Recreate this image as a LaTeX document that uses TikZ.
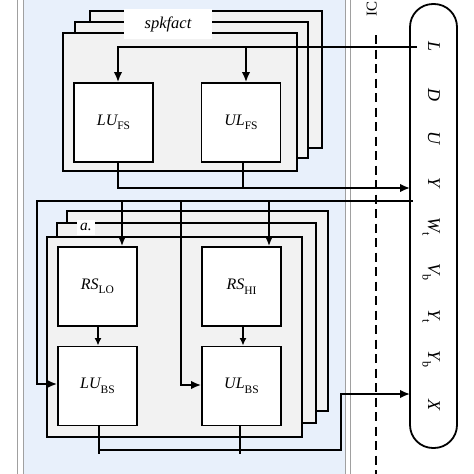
\documentclass[tikz,border=0pt]{standalone}
\usepackage{fontspec}
\setmainfont{Liberation Serif}
\usetikzlibrary{arrows.meta}
\definecolor{panelblue}{RGB}{232,240,251}
\definecolor{framegray}{RGB}{242,242,242}
\definecolor{edgegray}{RGB}{160,160,160}
\newcommand\sbs[1]{\raisebox{-0.28em}{\fontsize{11.5}{12}\selectfont\upshape #1}}
\newcommand\psbs[1]{\raisebox{-0.3em}{\fontsize{12}{13}\selectfont\upshape #1}}
\begin{document}
\begin{tikzpicture}[x=1pt,y=-1pt,
  frame/.style={draw=black,fill=framegray,line width=1.9pt},
  blk/.style={draw=black,fill=white,line width=1.9pt,minimum width=79pt,minimum height=79pt,inner sep=0pt,font=\fontsize{16}{19}\selectfont\itshape},
  conn/.style={line width=1.7pt},
  arr/.style={conn,-{Latex[length=10pt,width=8.5pt]}},
  sarr/.style={conn,-{Latex[length=7.5pt,width=7pt]}},
  plabel/.style={rotate=-90,anchor=base,font=\fontsize{18}{21}\selectfont\itshape,inner sep=0pt},
  tag/.style={fill=white,inner sep=0pt,font=\fontsize{16.5}{19}\selectfont\itshape}
]
\useasboundingbox (0,0) rectangle (474,474);
\fill[white] (0,0) rectangle (474,474);
% panel
\fill[panelblue] (23,0) rectangle (345,474);
\draw[edgegray,line width=0.9pt] (17,0) -- (17,474) (23,0) -- (23,474) (345,0) -- (345,474) (350,0) -- (350,474);
% IO label
\node[rotate=90,anchor=south west,inner sep=0pt,font=\fontsize{15}{18}\selectfont] (io) at (377,17) {IC};
% dashed line
\coordinate (dtop) at (376,35);
\coordinate (dbot) at (376,474);
\draw[line width=2.8pt,dash pattern=on 9pt off 5.5pt] (dtop) -- (dbot);
% pill
\node[draw,line width=1.8pt,rounded corners=23pt,minimum width=47pt,minimum height=444pt,inner sep=0pt] (pill) at (433.5,226) {};
\node[plabel] (pL) at (428,47) {L};
\node[plabel] (pD) at (428,95) {D};
\node[plabel] (pU) at (428,138) {U};
\node[plabel] (pY) at (428,183) {Y};
\node[plabel] (pWt) at (428,227) {W\psbs{t}};
\node[plabel] (pVb) at (428,272) {V\psbs{b}};
\node[plabel] (pYt) at (428,316) {Y\psbs{t}};
\node[plabel] (pYb) at (428,359) {Y\psbs{b}};
\node[plabel] (pX) at (428,405) {X};
% top stack
\draw[frame] (90,11) rectangle (322,148);
\draw[frame] (75,22) rectangle (308,158);
\draw[frame] (63,33) rectangle (297,171);
\node[tag,minimum width=88pt,minimum height=30pt] (spk) at (168,24) {spkfact};
\node[blk] (lufs) at (113.5,122.5) {LU\sbs{FS}};
\node[blk] (ulfs) at (241,122.5) {UL\sbs{FS}};
% bottom stack
\draw[frame] (67,211) rectangle (328,411);
\draw[frame] (57,223) rectangle (316,423);
\draw[frame] (47,237) rectangle (302,437);
\node[tag,minimum width=18pt,minimum height=15pt,font=\fontsize{15.5}{18}\selectfont\itshape] (atag) at (86,227) {a.};
\node[blk] (rslo) at (97.5,286.5) {RS\sbs{LO}};
\node[blk] (lubs) at (97.5,386) {LU\sbs{BS}};
\node[blk] (rshi) at (241.5,286.5) {RS\sbs{HI}};
\node[blk] (ulbs) at (241.5,386) {UL\sbs{BS}};
% connectors top
\coordinate (Lin) at (417,47);
\draw[arr] (Lin) -| ([xshift=4.5pt]lufs.north);
\draw[arr] ([xshift=5pt]ulfs.north |- Lin) -- ([xshift=5pt]ulfs.north);
\coordinate (Yin) at (410,188);
\draw[arr] ([xshift=4.5pt]lufs.south) |- (Yin);
\draw[conn] ([xshift=2pt]ulfs.south) -- ([xshift=2pt]ulfs.south |- Yin);
% connectors bottom
\coordinate (Win) at (413,201);
\coordinate (Wleft) at (37,201);
\coordinate (Wmid) at (181,201);
\draw[arr] (Win) -- (Wleft) |- ([yshift=2pt]lubs.west);
\draw[arr] ([xshift=24.5pt]rslo.north |- Win) -- ([xshift=24.5pt]rslo.north);
\draw[arr] (Wmid) |- ([yshift=1pt]ulbs.west);
\draw[arr] ([xshift=27.5pt]rshi.north |- Win) -- ([xshift=27.5pt]rshi.north);
\draw[sarr] ([xshift=0.5pt]rslo.south) -- ([xshift=0.5pt]lubs.north);
\draw[sarr] ([xshift=1.5pt]rshi.south) -- ([xshift=1.5pt]ulbs.north);
\coordinate (Xin) at (410,394);
\coordinate (Bend) at (341,450);
\draw[conn] ([xshift=1.5pt]lubs.south) -- ++(0,28);
\draw[conn] ([xshift=-1.5pt]ulbs.south) -- ++(0,28);
\draw[arr] ([xshift=1.5pt]lubs.south |- Bend) -- (Bend) |- (Xin);
\end{tikzpicture}
\end{document}
